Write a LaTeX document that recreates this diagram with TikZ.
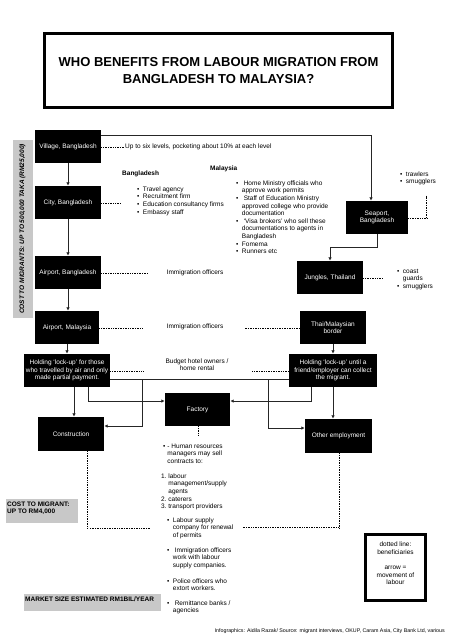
\documentclass[tikz,border=0pt]{standalone}
\usepackage{fontspec}
\setmainfont{Liberation Sans}
\usetikzlibrary{arrows.meta,calc}
\newcommand\smtxt{\fontsize{6.5}{7.6}\selectfont}
\definecolor{bandgray}{RGB}{200,200,200}
\begin{document}
\begin{tikzpicture}[x=1pt,y=-1pt,
 blk/.style={fill=black, text=white, font=\smtxt, align=center, inner sep=1pt, minimum width=66pt, minimum height=33pt},
 con/.style={draw=black!85, line width=0.7pt, -{Latex[length=3.5pt,width=3.5pt]}},
 bene/.style={draw=black, line width=0.55pt, double=white, double distance=0.9pt, dash pattern=on 0.9pt off 0.8pt},
 txt/.style={font=\smtxt, inner sep=0pt},
 lst/.style={font=\smtxt, inner sep=0pt, anchor=base west},
 gbox/.style={draw=none, fill=bandgray, inner sep=0pt},
]
\fill[white] (0,0) rectangle (451,640);
\useasboundingbox (0,0) rectangle (451,640);

% grey cost areas
\node[gbox, minimum width=20pt, minimum height=178pt] (costband) at (22.5,229) {};
\node[rotate=90, inner sep=0pt, font=\smtxt\bfseries\itshape] (costv) at (costband.center)
  {COST TO MIGRANTS: UP TO 500,000 TAKA (RM25,000)};
\node[gbox, anchor=north west, minimum width=72pt, minimum height=24pt] (costbox) at (6,499) {};
\node[lst, font=\smtxt\bfseries] (costtxt) at (7,506.3) {\begin{tabular}[t]{@{}l@{}}COST TO MIGRANT:\\UP TO RM4,000\end{tabular}};
\node[gbox, anchor=north west, minimum width=137pt, minimum height=17pt] (marketbox) at (24,594) {};
\node[lst, font=\smtxt\bfseries] (markettxt) at (25,601.3) {MARKET SIZE ESTIMATED RM1BIL/YEAR};

% title
\node[draw=black, line width=3pt, minimum width=348pt, minimum height=74pt,
  font=\fontsize{13}{16.5}\selectfont\bfseries, align=center] (title) at (218.5,70.5)
  {WHO BENEFITS FROM LABOUR MIGRATION FROM\\BANGLADESH TO MALAYSIA?};

% black boxes
\node[blk] (village) at (68,146.5) {Village, Bangladesh};
\node[blk] (city) at (68,202.5) {City, Bangladesh};
\node[blk] (airbd) at (68,272.5) {Airport, Bangladesh};
\node[blk, minimum width=64pt] (airmy) at (67,327.5) {Airport, Malaysia};
\node[blk, minimum width=86pt] (lockL) at (67,370.5) {Holding `lock-up' for those\\who travelled by air and only\\made partial payment.};
\node[blk, minimum height=34pt] (constr) at (71,434) {Construction};
\node[blk, minimum width=65pt] (factory) at (197.5,409.5) {Factory};
\node[blk, minimum width=67pt, minimum height=34pt] (other) at (338.5,436) {Other employment};
\node[blk, minimum width=88pt] (lockR) at (333,370.5) {Holding `lock-up' until a\\friend/employer can collect\\the migrant.};
\node[blk] (thai) at (333,327.5) {Thai/Malaysian\\border};
\node[blk] (jungles) at (330,277.5) {Jungles, Thailand};
\node[blk, minimum width=62pt] (seaport) at (377,217.5) {Seaport,\\Bangladesh};

% movement of labour
\draw[con] ([yshift=-6pt]village.north east) -| ([xshift=-6pt]seaport.north);
\draw[con] (seaport.south) -- ++(0,13) -| (jungles.north);
\draw[con] (village.south) -- (city.north);
\draw[con] (city.south) -- (airbd.north);
\draw[con] (airbd.south) -- (airbd.south |- airmy.north);
\draw[con] (airmy.south) -- (lockL.north);
\draw[con] (thai.south) -- (lockR.north);
\draw[con] ([xshift=7pt]lockL.south) -- ([xshift=7pt]lockL.south |- constr.north);
\draw[con] ([xshift=21pt]lockL.south) |- ([yshift=8.5pt]factory.west);
\draw[con] ([xshift=-22pt]lockR.south) |- ([yshift=8.5pt]factory.east);
\draw[con] (lockR.south) -- (lockR.south |- other.north);
\draw[con] ([yshift=-8.5pt]lockL.east) -- ++(158,0) |- ([yshift=8pt]other.west);
\draw[con] ([yshift=-8.5pt]lockR.west) -- ++(-146,0) |- ([yshift=8pt]constr.east);

% beneficiaries texts
\node[txt, anchor=west] (lvl) at (125,146.5) {Up to six levels, pocketing about 10\% at each level};
\node[txt] (immig1) at (195,273) {Immigration officers};
\node[txt] (immig2) at (195,327) {Immigration officers};
\node[txt, align=center] (budget) at (197,364.5) {Budget hotel owners /\\home rental};

\node[lst, font=\smtxt\bfseries] (bdh) at (122,175.3) {Bangladesh};
\node[lst] (bdl) at (137,191.3) {\begin{tabular}[t]{@{}l@{\hspace{3.5pt}}l@{}}
\textbullet & Travel agency\\
\textbullet & Recruitment firm\\
\textbullet & Education consultancy firms\\
\textbullet & Embassy staff\end{tabular}};

\node[lst, font=\smtxt\bfseries] (myh) at (210,170.3) {Malaysia};
\node[lst] (myl) at (236,185.3) {\begin{tabular}[t]{@{}l@{\hspace{3.5pt}}l@{}}
\textbullet & \ Home Ministry officials who\\
 & approve work permits\\
\textbullet & \ Staff of Education Ministry\\
 & approved college who provide\\
 & documentation\\
\textbullet & \ `Visa brokers' who sell these\\
 & documentations to agents in\\
 & Bangladesh\\
\textbullet & Fomema\\
\textbullet & Runners etc\end{tabular}};

\node[lst] (seal) at (400,176.3) {\begin{tabular}[t]{@{}l@{\hspace{3.5pt}}l@{}}
\textbullet & trawlers\\
\textbullet & smugglers\end{tabular}};
\node[lst] (jungl) at (397,273.3) {\begin{tabular}[t]{@{}l@{\hspace{3.5pt}}l@{}}
\textbullet & coast\\
 & guards\\
\textbullet & smugglers\end{tabular}};

\node[lst] (fg1) at (163,448.3) {\begin{tabular}[t]{@{}l@{\hspace{2pt}}l@{}}
\textbullet & - Human resources\\
 & managers may sell\\
 & contracts to:\end{tabular}};
\node[lst] (fg2) at (161,478.3) {\begin{tabular}[t]{@{}l@{\hspace{1.8pt}}l@{}}
1. & labour\\
 & management/supply\\
 & agents\\
2. & caterers\\
3. & transport providers\end{tabular}};
\node[lst] (fg3) at (167,522.3) {\begin{tabular}[t]{@{}l@{\hspace{3.5pt}}l@{}}
\textbullet & Labour supply\\
 & company for renewal\\
 & of permits\end{tabular}};
\node[lst] (fg4) at (167,552.3) {\begin{tabular}[t]{@{}l@{\hspace{3.5pt}}l@{}}
\textbullet & \ Immigration officers\\
 & work with labour\\
 & supply companies.\end{tabular}};
\node[lst] (fg5) at (167,583.3) {\begin{tabular}[t]{@{}l@{\hspace{3.5pt}}l@{}}
\textbullet & Police officers who\\
 & extort workers.\end{tabular}};
\node[lst] (fg6) at (167,605.3) {\begin{tabular}[t]{@{}l@{\hspace{3.5pt}}l@{}}
\textbullet & \ Remittance banks /\\
 & agencies\end{tabular}};

% dotted beneficiary lines
\draw[bene] (village.east) -- (lvl.west);
\draw[bene] (city.east) -- ++(19,0);
\draw[bene] (airbd.east) -- ++(46,0);
\draw[bene] (airmy.east) -- ++(44,0);
\draw[bene] (lockL.east) -- ++(33,0);
\draw[bene] (lockR.west) -- ++(-37,0);
\draw[bene] (thai.west) -- ++(-55,0);
\draw[bene] (jungles.east) -- ++(19,0);
\draw[bene] (seaport.east) -- ++(19,0) -- ++(0,-22);
\draw[bene] (factory.south) -- ++(0,10);
\draw[bene] ([xshift=17pt]constr.south) -- ++(0,78) -- ++(62,0);
\draw[bene] (other.south) -- ++(0,75) -- ++(-96,0);

% legend
\node[draw=black, line width=3pt, minimum width=60pt, minimum height=66pt] (legend) at (395.5,567.5) {};
\node[txt, align=center] (legtxt) at (395.5,563.5) {dotted line:\\beneficiaries\\[7.4pt]arrow =\\movement of\\labour};

% footer
\node[txt, font=\fontsize{5.3}{6}\selectfont, anchor=east] (foot) at (445,631)
  {Infographics: Aidila Razak/ Source: migrant interviews, OKUP, Caram Asia, City Bank Ltd, various};
\end{tikzpicture}
\end{document}
